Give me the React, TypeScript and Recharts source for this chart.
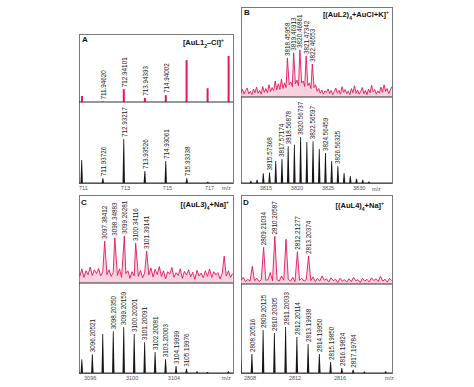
import { ComposedChart, Bar, Area, Scatter, XAxis, YAxis } from 'recharts'

const RED = '#e2185a'
const PINK = '#f5bfd0'
const INK = '#151515'
const AXIS = '#333'
const FRAME = '#7a7a7a'

// ---- A  [AuL1_2–Cl]+ ----
const aTicks = [711, 713, 715, 717]
const aRedMz = [710.95, 711.946, 712.941, 713.944, 714.94, 715.93, 716.93, 717.93]
const aRedInt = [13, 1, 28, 9, 15, 91, 30, 100]
const aRedLabels = ['', '711.94620', '712.94101', '713.94393', '714.94002', '', '', '']
const aBlackMz = [710.93, 711.937, 712.932, 713.935, 714.931, 715.933, 716.93]
const aBlackInt = [52, 11, 100, 27, 50, 11, 3]
const aBlackLabels = ['', '711.93726', '712.93217', '713.93526', '714.93061', '715.93338', '']

// ---- B  [(AuL2)4+AuCl+K]+ ----
const bTicks = [3815, 3820, 3825, 3830]
const bRedPeakMz = [3818.46, 3819.469, 3820.469, 3821.473, 3822.466]
const bRedPeakInt = [83, 94, 100, 87, 70]
const bRedLabels = ['3818.45958', '3819.46913', '3820.46861', '3821.47342', '3822.46553']
const bNoiseFrom = 3811
const bNoiseStep = 0.25
const bNoise = [
  8, 16, 6, 14, 19, 7, 12, 5, 17, 9,
  21, 8, 14, 6, 22, 10, 18, 9, 26, 12,
  20, 14, 34, 15, 28, 16, 38, 18, 30, 20,
  22, 26, 32, 22, 20, 28, 36, 24, 20, 30,
  34, 22, 20, 24, 30, 18, 20, 20, 26, 12,
  18, 8, 15, 6, 13, 10, 17, 7, 14, 5,
  12, 19, 8, 14, 6, 22, 10, 16, 7, 13,
  5, 18, 9, 24, 8, 15, 6, 12, 20, 7,
  14, 5, 17, 9, 25, 11, 16, 6, 13, 8,
  21, 10, 26, 12, 18, 7, 15, 22,
]
const bBlackMz = [3812.57, 3813.57, 3814.57, 3815.574, 3816.57, 3817.572, 3818.569, 3819.57, 3820.567, 3821.57,
  3822.566, 3823.565, 3824.565, 3825.564, 3826.563, 3827.56, 3828.56, 3829.56, 3830.56, 3831.56]
const bBlackInt = [5, 7, 21, 23, 48, 52, 80, 83, 100, 89, 91, 74, 65, 48, 37, 22, 15, 9, 7, 3]
const bBlackLabels = ['', '', '', '3815.57368', '', '3817.57174', '3818.56878', '', '3820.56737', '',
  '3822.56597', '', '3824.56459', '', '3826.56325', '', '', '', '', '']

// ---- C  [(AuL3)4+Na]+ ----
const cTicks = [3096, 3100, 3104]
const cRedPeakMz = [3097.384, 3098.349, 3099.263, 3100.341, 3101.391]
const cRedPeakInt = [89, 96, 100, 85, 68]
const cRedLabels = ['3097.38412', '3098.34883', '3099.26281', '3100.34116', '3101.39141']
const cNoiseFrom = 3095
const cNoiseStep = 0.2
const cNoise = [
  14, 30, 12, 26, 18, 34, 16, 28, 20, 31,
  15, 24, 20, 18, 28, 14, 22, 20, 16, 30,
  12, 18, 20, 26, 10, 24, 15, 20, 14, 27,
  11, 21, 20, 17, 32, 13, 29, 18, 35, 14,
  26, 9, 24, 19, 33, 12, 22, 16, 30, 10,
  25, 17, 28, 13, 23, 8, 27, 15, 21, 11,
  26, 14, 30, 12, 24, 17, 22, 9, 20, 57,
  15, 26, 12, 20,
]
const cBlackMz = [3095.2, 3096.205, 3097.2, 3098.204, 3099.202, 3100.202, 3101.201, 3102.201, 3103.2, 3104.2,
  3105.2, 3106.2, 3107.2, 3109.2]
const cBlackInt = [30, 41, 85, 91, 100, 85, 67, 46, 30, 15, 9, 4, 2, 4]
const cBlackLabels = ['', '3096.20521', '', '3098.20350', '3099.20159', '3100.20201', '3101.20091', '3102.20081',
  '3103.20003', '3104.19999', '3105.19976', '', '', '']

// ---- D  [(AuL4)4+Na]+ ----
const dTicks = [2808, 2812, 2816]
const dRedPeakMz = [2808.2, 2809.21, 2810.206, 2811.2, 2812.213, 2813.204]
const dRedPeakInt = [37, 77, 100, 94, 68, 59]
const dRedLabels = ['', '2809.21034', '2810.20587', '', '2812.21277', '2813.20374']
const dNoiseFrom = 2807.2
const dNoiseStep = 0.2
const dNoise = [
  8, 14, 5, 10, 6, 20, 7, 12, 5, 9,
  20, 8, 9, 24, 7, 20, 9, 6, 17, 8,
  20, 10, 6, 14, 5, 20, 8, 12, 6, 9,
  20, 7, 15, 5, 12, 6, 17, 8, 11, 4,
  13, 7, 10, 3, 12, 6, 9, 4, 11, 5,
  14, 7, 9, 3, 12, 6, 10, 4, 13, 7,
  11, 5, 16, 6, 10, 4, 12, 7,
]
const dBlackMz = [2807.2, 2808.205, 2809.201, 2810.203, 2811.2, 2812.201, 2813.199, 2814.2, 2815.199, 2816.198,
  2817.198, 2818.2, 2820.1]
const dBlackInt = [37, 41, 93, 87, 100, 78, 63, 41, 24, 11, 7, 3, 4]
const dBlackLabels = ['', '2808.20516', '2809.20125', '2810.20305', '2811.20033', '2812.20114', '2813.19938',
  '2814.19950', '2815.19850', '2816.19824', '2817.19784', '', '']

type Pt = { mz: number; h: number; label?: string }

function sticks(mz: number[], h: number[], labels: string[]): Pt[] {
  return mz.map((m, i) => ({ mz: m, h: h[i], label: labels[i] }))
}

// noise samples on a regular grid, with the labelled apexes dropped in
function trace(from: number, step: number, noise: number[], peakMz: number[], peakInt: number[], labels: string[]): Pt[] {
  const pts: Pt[] = noise
    .map((v, i) => ({ mz: from + i * step, h: v }))
    .filter(p => peakMz.every(m => Math.abs(m - p.mz) > step * 0.6))
  peakMz.forEach((m, i) => pts.push({ mz: m, h: peakInt[i], label: labels[i] }))
  return pts.sort((a, b) => a.mz - b.mz)
}

function PeakLabel(props: any) {
  const { cx, cy, payload } = props
  if (cx == null || cy == null || !payload?.label) return <g />
  return (
    <text transform={`translate(${cx},${cy - 2}) rotate(-90)`} fontSize={6.3} fill="#1a1a1a"
      textAnchor="start" dominantBaseline="central">{payload.label}</text>
  )
}

// narrow centroid spike: wider foot, thin tip
function Spike(props: any) {
  const { x, y, width, height, fill } = props
  if (!height || height <= 0) return <g />
  const c = x + width / 2
  const b = y + height
  return <path d={`M${c - 1.2},${b}L${c - 0.4},${y}L${c + 0.4},${y}L${c + 1.2},${b}Z`} fill={fill} />
}

const noMargin = { top: 0, right: 0, bottom: 0, left: 0 }

interface StripProps {
  x: number; y: number; w: number; h: number
  domain: [number, number]; ymax: number; pts: Pt[]
  ticks?: number[]
}

function StickStrip({ x, y, w, h, domain, ymax, pts, ticks, color, barSize, spike }: StripProps & { color: string; barSize: number; spike?: boolean }) {
  const axisH = ticks ? 14 : 1
  return (
    <div style={{ position: 'absolute', left: x, top: y }}>
      <ComposedChart width={w} height={h + axisH} data={pts} margin={noMargin}>
        <XAxis type="number" dataKey="mz" domain={domain} height={axisH} ticks={ticks} interval={0}
          tick={ticks ? { fontSize: 5.5, fill: '#555' } : false} tickLine={false} tickSize={0} tickMargin={3}
          axisLine={{ stroke: AXIS }} />
        <YAxis hide domain={[0, ymax]} />
        <Bar dataKey="h" barSize={barSize} fill={color} shape={spike ? Spike : undefined} isAnimationActive={false} />
        <Scatter data={pts.filter(p => p.label)} dataKey="h" shape={PeakLabel} isAnimationActive={false} />
      </ComposedChart>
    </div>
  )
}

function TraceStrip({ x, y, w, h, domain, ymax, pts }: StripProps) {
  return (
    <div style={{ position: 'absolute', left: x, top: y }}>
      <ComposedChart width={w} height={h + 1} data={pts} margin={noMargin}>
        <XAxis type="number" dataKey="mz" domain={domain} height={1} tick={false} tickLine={false}
          axisLine={{ stroke: AXIS }} />
        <YAxis hide domain={[0, ymax]} />
        <Area type="linear" dataKey="h" stroke={RED} strokeWidth={0.9} fill={PINK} fillOpacity={0.7}
          dot={false} activeDot={false} isAnimationActive={false} />
        <Scatter data={pts.filter(p => p.label)} dataKey="h" shape={PeakLabel} isAnimationActive={false} />
      </ComposedChart>
    </div>
  )
}

const frame = (left: number, top: number, width: number, height: number) => (
  <div style={{ position: 'absolute', left, top, width, height, border: `1px solid ${FRAME}`, boxSizing: 'border-box' }} />
)

const letter = { position: 'absolute' as const, fontSize: 8, fontWeight: 700, lineHeight: 1, color: '#111' }
const head = { position: 'absolute' as const, fontSize: 7.5, fontWeight: 700, lineHeight: 1, color: '#111', whiteSpace: 'nowrap' as const }
const sub = { fontSize: 5, verticalAlign: 'sub', lineHeight: 0 }
const sup = { fontSize: 5, verticalAlign: 'super', lineHeight: 0 }
const mz = { position: 'absolute' as const, fontSize: 5.5, color: '#555', lineHeight: 1 }

export default function App() {
  return (
    <div style={{ position: 'absolute', left: 0, top: 0, width: 474, height: 387, background: '#fff',
      fontFamily: '"Liberation Sans", Arial, sans-serif', overflow: 'hidden' }}>
      {frame(79, 34, 155, 150)}
      {frame(241, 7, 152, 177)}
      {frame(79, 195, 155, 179)}
      {frame(241, 195, 152, 179)}

      {/* A */}
      <StickStrip x={79} y={34} w={154} h={68} domain={[710.79, 718.12]} ymax={148}
        pts={sticks(aRedMz, aRedInt, aRedLabels)} color={RED} barSize={2} />
      <StickStrip x={79} y={102} w={154} h={81} domain={[710.79, 718.12]} ymax={184} ticks={aTicks}
        pts={sticks(aBlackMz, aBlackInt, aBlackLabels)} color={INK} barSize={2.4} spike />

      {/* B */}
      <TraceStrip x={241} y={7} w={151} h={90} domain={[3811, 3835.28]} ymax={191}
        pts={trace(bNoiseFrom, bNoiseStep, bNoise, bRedPeakMz, bRedPeakInt, bRedLabels)} />
      <StickStrip x={241} y={97} w={151} h={86} domain={[3811, 3835.28]} ymax={187} ticks={bTicks}
        pts={sticks(bBlackMz, bBlackInt, bBlackLabels)} color={INK} barSize={2.4} spike />

      {/* C */}
      <TraceStrip x={79} y={195} w={154} h={88} domain={[3094.93, 3109.64]} ymax={187}
        pts={trace(cNoiseFrom, cNoiseStep, cNoise, cRedPeakMz, cRedPeakInt, cRedLabels)} />
      <StickStrip x={79} y={283} w={154} h={90} domain={[3094.93, 3109.64]} ymax={196} ticks={cTicks}
        pts={sticks(cBlackMz, cBlackInt, cBlackLabels)} color={INK} barSize={2.4} spike />

      {/* D */}
      <TraceStrip x={241} y={195} w={151} h={89} domain={[2807.2, 2820.62]} ymax={187}
        pts={trace(dNoiseFrom, dNoiseStep, dNoise, dRedPeakMz, dRedPeakInt, dRedLabels)} />
      <StickStrip x={241} y={284} w={151} h={89} domain={[2807.2, 2820.62]} ymax={193} ticks={dTicks}
        pts={sticks(dBlackMz, dBlackInt, dBlackLabels)} color={INK} barSize={2.4} spike />

      <div style={{ ...letter, left: 82, top: 36 }}>A</div>
      <div style={{ ...letter, left: 244, top: 9 }}>B</div>
      <div style={{ ...letter, left: 81, top: 199 }}>C</div>
      <div style={{ ...letter, left: 243, top: 199 }}>D</div>

      <div style={{ ...head, right: 474 - 224, top: 39 }}>[AuL1<span style={sub}>2</span>–Cl]<span style={sup}>+</span></div>
      <div style={{ ...head, right: 474 - 389, top: 11 }}>[(AuL2)<span style={sub}>4</span>+AuCl+K]<span style={sup}>+</span></div>
      <div style={{ ...head, right: 474 - 229, top: 201 }}>[(AuL3)<span style={sub}>4</span>+Na]<span style={sup}>+</span></div>
      <div style={{ ...head, right: 474 - 384, top: 202 }}>[(AuL4)<span style={sub}>4</span>+Na]<span style={sup}>+</span></div>

      <div style={{ ...mz, left: 222, top: 186 }}>m/z</div>
      <div style={{ ...mz, left: 372, top: 187 }}>m/z</div>
      <div style={{ ...mz, left: 222, top: 376 }}>m/z</div>
      <div style={{ ...mz, left: 385, top: 376 }}>m/z</div>
    </div>
  )
}
